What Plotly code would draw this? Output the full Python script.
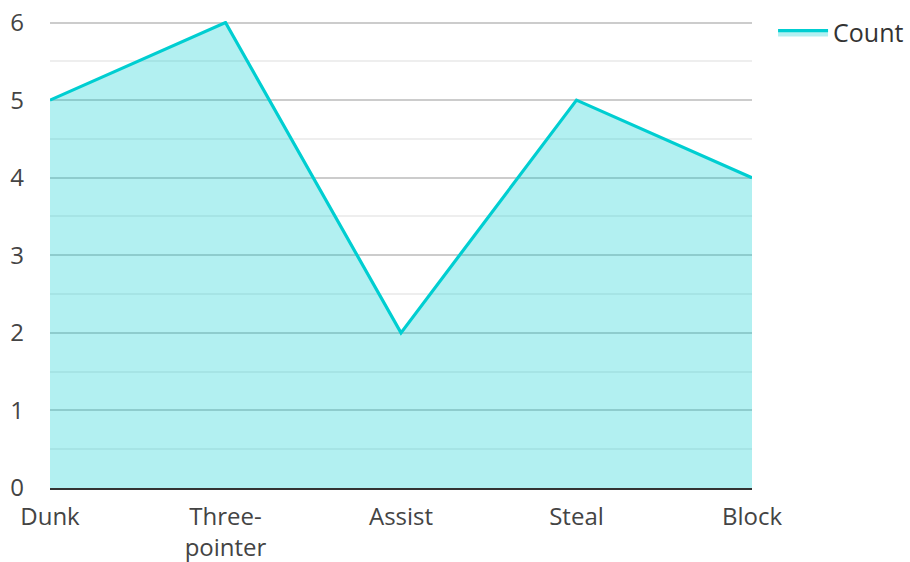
import plotly.graph_objects as go

categories = ["Dunk", "Three-pointer", "Assist", "Steal", "Block"]
tick_labels = ["Dunk", "Three-<br>pointer", "Assist", "Steal", "Block"]
counts = [5, 6, 2, 5, 4]
series_name = "Count"

fig = go.Figure()
fig.add_trace(go.Scatter(
    x=categories, y=counts, name=series_name, mode="lines",
    fill="tozeroy", line=dict(color="#00CED1", width=3.2),
    fillcolor="rgba(0,206,209,0.3)",
))

fig.update_layout(
    width=910, height=562,
    margin=dict(l=50, r=158, t=21, b=74, autoexpand=False),
    paper_bgcolor="white", plot_bgcolor="white",
    font=dict(family="Open Sans", size=24, color="#444"),
    showlegend=True,
    legend=dict(x=1.03, y=1.024, xanchor="left", yanchor="top", itemwidth=50,
                font=dict(size=25, color="#333"), bgcolor="rgba(0,0,0,0)"),
)
fig.update_xaxes(
    type="category", range=[0, 4], tickvals=categories, ticktext=tick_labels,
    showgrid=False, showline=True, linecolor="#333", linewidth=2,
    zeroline=False, ticks="", automargin=False, ticklabelstandoff=6,
    ticklabeloverflow="allow",
)
fig.update_yaxes(
    range=[0, 6.02], dtick=1, showgrid=True, gridcolor="#ccc", gridwidth=2,
    minor=dict(dtick=0.5, showgrid=True, gridcolor="#eee", gridwidth=1.5),
    zeroline=False, showline=False, ticks="", ticklabelstandoff=25,
    automargin=False, ticklabeloverflow="allow",
)

fig.write_html(
    "out.html",
    config={"displayModeBar": False},
    post_script="document.body.style.margin='0px';document.body.style.overflow='hidden';",
)
